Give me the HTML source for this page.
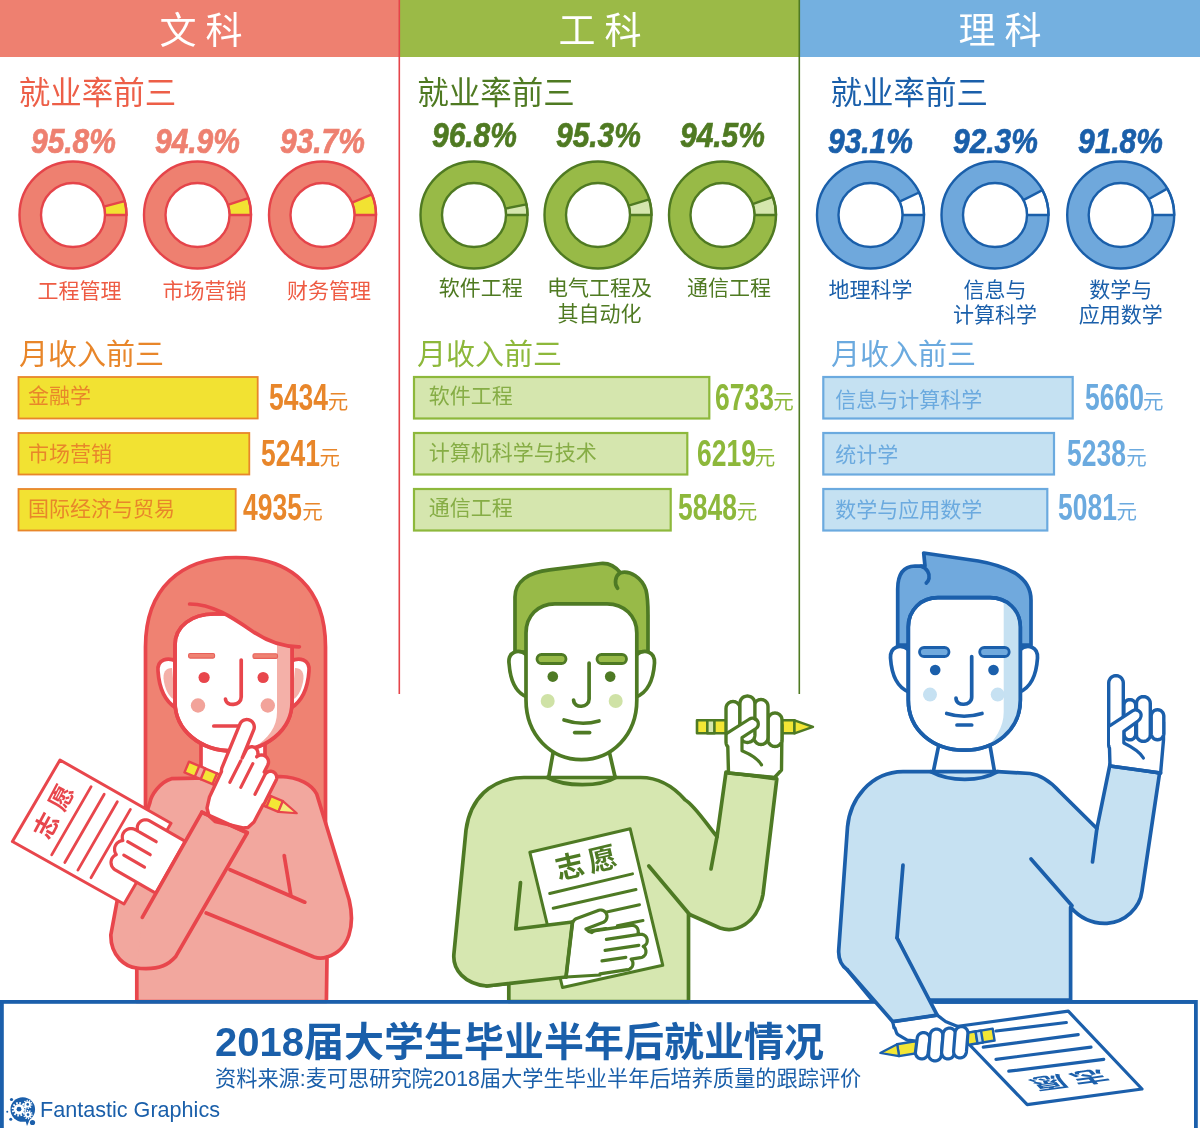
<!DOCTYPE html>
<html lang="zh-CN">
<head>
<meta charset="utf-8">
<title>2018届大学生毕业半年后就业情况</title>
<style>
*{margin:0;padding:0;box-sizing:border-box}
html,body{width:1200px;height:1128px;overflow:hidden;background:#fff}
body{position:relative;font-family:"Liberation Sans","Noto Sans CJK SC",sans-serif}
.a{position:absolute;white-space:nowrap}
.hd{top:0;height:57px;color:#fff;font-size:37px;line-height:63px;text-align:center;letter-spacing:9px;text-indent:9px;font-weight:400}
.h2{font-size:31.5px;line-height:31.5px;font-weight:400}
.h3{font-size:29px;line-height:29px;font-weight:400}
.pc{font-size:35px;line-height:35px;font-weight:700;-webkit-text-stroke:0.7px currentColor;font-style:italic;font-family:"Liberation Sans",sans-serif;transform-origin:0 0;transform:scaleX(.855)}
.lb{font-size:21px;text-align:center;white-space:normal}
.bt{font-size:21px;line-height:21px}
.num{font-size:36.5px;line-height:36.5px;font-weight:700;font-family:"Liberation Sans",sans-serif;transform-origin:0 0;transform:scaleX(.725)}
.yuan{font-size:20.5px;line-height:20.5px}
svg{position:absolute;left:0;top:0}
.ft1{font-size:40px;line-height:40px;font-weight:700;color:#1a5faa}
.ft2{font-size:21.2px;line-height:21.2px;color:#1a5faa}
.ft3{font-size:21.6px;line-height:21.6px;color:#1a5faa;font-family:"Liberation Sans",sans-serif}
</style>
</head>
<body>
<div class="a" style="left:0;top:0;width:399px;height:57px;background:#ee8070"></div>
<div class="a" style="left:400px;top:0;width:399px;height:57px;background:#9bba47"></div>
<div class="a" style="left:800px;top:0;width:400px;height:57px;background:#74b0e0"></div>
<div class="a hd" style="left:-1.5px;width:405px">文科</div>
<div class="a hd" style="left:397.5px;width:405px">工科</div>
<div class="a hd" style="left:797.5px;width:405px">理科</div>
<svg width="1200" height="1128" viewBox="0 0 1200 1128">
<line x1="399.3" y1="0" x2="399.3" y2="694" stroke="#e5444a" stroke-width="1.6"/>
<line x1="799.3" y1="0" x2="799.3" y2="694" stroke="#4f7a22" stroke-width="1.6"/>
<circle cx="73" cy="215" r="42.75" fill="none" stroke="#ee8070" stroke-width="21.5"/><path d="M105.00,215.00 L126.50,215.00 A53.5,53.5 0 0 0 124.65,201.04 L103.89,206.65 A32,32 0 0 1 105.00,215.00Z" fill="#f2e232" stroke="#e5444a" stroke-width="2.4" stroke-linejoin="round"/><circle cx="73" cy="215" r="53.5" fill="none" stroke="#e5444a" stroke-width="2.4"/><circle cx="73" cy="215" r="32" fill="#fff" stroke="#e5444a" stroke-width="2.4"/>
<circle cx="197.5" cy="215" r="42.75" fill="none" stroke="#ee8070" stroke-width="21.5"/><path d="M229.50,215.00 L251.00,215.00 A53.5,53.5 0 0 0 248.28,198.15 L227.87,204.92 A32,32 0 0 1 229.50,215.00Z" fill="#f2e232" stroke="#e5444a" stroke-width="2.4" stroke-linejoin="round"/><circle cx="197.5" cy="215" r="53.5" fill="none" stroke="#e5444a" stroke-width="2.4"/><circle cx="197.5" cy="215" r="32" fill="#fff" stroke="#e5444a" stroke-width="2.4"/>
<circle cx="322.5" cy="215" r="42.75" fill="none" stroke="#ee8070" stroke-width="21.5"/><path d="M354.50,215.00 L376.00,215.00 A53.5,53.5 0 0 0 371.86,194.37 L352.03,202.66 A32,32 0 0 1 354.50,215.00Z" fill="#f2e232" stroke="#e5444a" stroke-width="2.4" stroke-linejoin="round"/><circle cx="322.5" cy="215" r="53.5" fill="none" stroke="#e5444a" stroke-width="2.4"/><circle cx="322.5" cy="215" r="32" fill="#fff" stroke="#e5444a" stroke-width="2.4"/>
<rect x="18.5" y="377" width="239.2" height="41.5" fill="#f2e232" stroke="#e8862a" stroke-width="1.8"/>
<rect x="18.5" y="433" width="230.8" height="41.5" fill="#f2e232" stroke="#e8862a" stroke-width="1.8"/>
<rect x="18.5" y="489" width="217.2" height="41.5" fill="#f2e232" stroke="#e8862a" stroke-width="1.8"/>
<circle cx="474" cy="215" r="42.75" fill="none" stroke="#98ba47" stroke-width="21.5"/><path d="M506.00,215.00 L527.50,215.00 A53.5,53.5 0 0 0 526.42,204.32 L505.36,208.61 A32,32 0 0 1 506.00,215.00Z" fill="#d5e6ae" stroke="#4f7a22" stroke-width="2.4" stroke-linejoin="round"/><circle cx="474" cy="215" r="53.5" fill="none" stroke="#4f7a22" stroke-width="2.4"/><circle cx="474" cy="215" r="32" fill="#fff" stroke="#4f7a22" stroke-width="2.4"/>
<circle cx="598" cy="215" r="42.75" fill="none" stroke="#98ba47" stroke-width="21.5"/><path d="M630.00,215.00 L651.50,215.00 A53.5,53.5 0 0 0 649.18,199.43 L628.61,205.69 A32,32 0 0 1 630.00,215.00Z" fill="#d5e6ae" stroke="#4f7a22" stroke-width="2.4" stroke-linejoin="round"/><circle cx="598" cy="215" r="53.5" fill="none" stroke="#4f7a22" stroke-width="2.4"/><circle cx="598" cy="215" r="32" fill="#fff" stroke="#4f7a22" stroke-width="2.4"/>
<circle cx="722.5" cy="215" r="42.75" fill="none" stroke="#98ba47" stroke-width="21.5"/><path d="M754.50,215.00 L776.00,215.00 A53.5,53.5 0 0 0 772.84,196.88 L752.61,204.16 A32,32 0 0 1 754.50,215.00Z" fill="#d5e6ae" stroke="#4f7a22" stroke-width="2.4" stroke-linejoin="round"/><circle cx="722.5" cy="215" r="53.5" fill="none" stroke="#4f7a22" stroke-width="2.4"/><circle cx="722.5" cy="215" r="32" fill="#fff" stroke="#4f7a22" stroke-width="2.4"/>
<rect x="414" y="377" width="295.3" height="41.5" fill="#d5e6ae" stroke="#8db83b" stroke-width="2.2"/>
<rect x="414" y="433" width="273.3" height="41.5" fill="#d5e6ae" stroke="#8db83b" stroke-width="2.2"/>
<rect x="414" y="489" width="256.7" height="41.5" fill="#d5e6ae" stroke="#8db83b" stroke-width="2.2"/>
<circle cx="870.5" cy="215" r="42.75" fill="none" stroke="#6fa8dc" stroke-width="21.5"/><path d="M902.50,215.00 L924.00,215.00 A53.5,53.5 0 0 0 919.05,192.53 L899.54,201.56 A32,32 0 0 1 902.50,215.00Z" fill="#ffffff" stroke="#1a5faa" stroke-width="2.4" stroke-linejoin="round"/><circle cx="870.5" cy="215" r="53.5" fill="none" stroke="#1a5faa" stroke-width="2.4"/><circle cx="870.5" cy="215" r="32" fill="#fff" stroke="#1a5faa" stroke-width="2.4"/>
<circle cx="995" cy="215" r="42.75" fill="none" stroke="#6fa8dc" stroke-width="21.5"/><path d="M1027.00,215.00 L1048.50,215.00 A53.5,53.5 0 0 0 1042.36,190.11 L1023.33,200.12 A32,32 0 0 1 1027.00,215.00Z" fill="#ffffff" stroke="#1a5faa" stroke-width="2.4" stroke-linejoin="round"/><circle cx="995" cy="215" r="53.5" fill="none" stroke="#1a5faa" stroke-width="2.4"/><circle cx="995" cy="215" r="32" fill="#fff" stroke="#1a5faa" stroke-width="2.4"/>
<circle cx="1120.7" cy="215" r="42.75" fill="none" stroke="#6fa8dc" stroke-width="21.5"/><path d="M1152.70,215.00 L1174.20,215.00 A53.5,53.5 0 0 0 1167.25,188.64 L1148.55,199.23 A32,32 0 0 1 1152.70,215.00Z" fill="#ffffff" stroke="#1a5faa" stroke-width="2.4" stroke-linejoin="round"/><circle cx="1120.7" cy="215" r="53.5" fill="none" stroke="#1a5faa" stroke-width="2.4"/><circle cx="1120.7" cy="215" r="32" fill="#fff" stroke="#1a5faa" stroke-width="2.4"/>
<rect x="823.3" y="377" width="249.4" height="41.5" fill="#c5e1f2" stroke="#6baadf" stroke-width="2.2"/>
<rect x="823.3" y="433" width="230.7" height="41.5" fill="#c5e1f2" stroke="#6baadf" stroke-width="2.2"/>
<rect x="823.3" y="489" width="224.0" height="41.5" fill="#c5e1f2" stroke="#6baadf" stroke-width="2.2"/>
</svg>
<div class="a h2" style="left:18.8px;top:77.5px;color:#ed5f48">就业率前三</div>
<div class="a h3" style="left:19px;top:340.5px;color:#e8862a">月收入前三</div>
<div class="a pc" style="left:31px;top:123px;color:#ee8070">95.8%</div>
<div class="a lb" style="left:19.5px;width:120px;top:278px;color:#ee5b43;line-height:25px">工程管理</div>
<div class="a pc" style="left:155px;top:123px;color:#ee8070">94.9%</div>
<div class="a lb" style="left:144.5px;width:120px;top:278px;color:#ee5b43;line-height:25px">市场营销</div>
<div class="a pc" style="left:280px;top:123px;color:#ee8070">93.7%</div>
<div class="a lb" style="left:269px;width:120px;top:278px;color:#ee5b43;line-height:25px">财务管理</div>
<div class="a bt" style="left:28px;top:385.1px;color:#e8862a">金融学</div>
<div class="a num" style="left:268.8px;top:379.8px;color:#e8862a">5434</div>
<div class="a yuan" style="left:327.7px;top:391.5px;color:#e8862a">元</div>
<div class="a bt" style="left:28px;top:442.9px;color:#e8862a">市场营销</div>
<div class="a num" style="left:260.5px;top:436.1px;color:#e8862a">5241</div>
<div class="a yuan" style="left:319.4px;top:447.5px;color:#e8862a">元</div>
<div class="a bt" style="left:28px;top:497.5px;color:#e8862a">国际经济与贸易</div>
<div class="a num" style="left:243.3px;top:490.3px;color:#e8862a">4935</div>
<div class="a yuan" style="left:302.2px;top:502.0px;color:#e8862a">元</div>
<div class="a h2" style="left:417.3px;top:77.5px;color:#4f7a22">就业率前三</div>
<div class="a h3" style="left:417px;top:340.5px;color:#8db83b">月收入前三</div>
<div class="a pc" style="left:432px;top:116.5px;color:#4f7a22">96.8%</div>
<div class="a lb" style="left:420.8px;width:120px;top:275px;color:#4f7a22;line-height:26px">软件工程</div>
<div class="a pc" style="left:556px;top:116.5px;color:#4f7a22">95.3%</div>
<div class="a lb" style="left:539.4px;width:120px;top:275px;color:#4f7a22;line-height:26px">电气工程及<br>其自动化</div>
<div class="a pc" style="left:680px;top:116.5px;color:#4f7a22">94.5%</div>
<div class="a lb" style="left:669px;width:120px;top:275px;color:#4f7a22;line-height:26px">通信工程</div>
<div class="a bt" style="left:428.7px;top:385.2px;color:#86ad45">软件工程</div>
<div class="a num" style="left:715.0px;top:379.8px;color:#8db83b">6733</div>
<div class="a yuan" style="left:773.2px;top:391.5px;color:#8db83b">元</div>
<div class="a bt" style="left:428.7px;top:441.8px;color:#86ad45">计算机科学与技术</div>
<div class="a num" style="left:696.5px;top:436.1px;color:#8db83b">6219</div>
<div class="a yuan" style="left:754.7px;top:447.5px;color:#8db83b">元</div>
<div class="a bt" style="left:428.7px;top:496.8px;color:#86ad45">通信工程</div>
<div class="a num" style="left:677.9px;top:490.3px;color:#8db83b">5848</div>
<div class="a yuan" style="left:736.8px;top:502.0px;color:#8db83b">元</div>
<div class="a h2" style="left:830.6px;top:77.5px;color:#1a5faa">就业率前三</div>
<div class="a h3" style="left:831px;top:340.5px;color:#6baadf">月收入前三</div>
<div class="a pc" style="left:828.4px;top:123px;color:#1a5faa">93.1%</div>
<div class="a lb" style="left:810.5px;width:120px;top:278px;color:#1a5faa;line-height:24.5px">地理科学</div>
<div class="a pc" style="left:953px;top:123px;color:#1a5faa">92.3%</div>
<div class="a lb" style="left:935px;width:120px;top:278px;color:#1a5faa;line-height:24.5px">信息与<br>计算科学</div>
<div class="a pc" style="left:1078px;top:123px;color:#1a5faa">91.8%</div>
<div class="a lb" style="left:1060.7px;width:120px;top:278px;color:#1a5faa;line-height:24.5px">数学与<br>应用数学</div>
<div class="a bt" style="left:835.3px;top:388.5px;color:#6baadf">信息与计算科学</div>
<div class="a num" style="left:1084.5px;top:379.8px;color:#6baadf">5660</div>
<div class="a yuan" style="left:1143.1px;top:391.5px;color:#6baadf">元</div>
<div class="a bt" style="left:835.3px;top:444.3px;color:#6baadf">统计学</div>
<div class="a num" style="left:1066.7px;top:436.1px;color:#6baadf">5238</div>
<div class="a yuan" style="left:1126.2px;top:447.5px;color:#6baadf">元</div>
<div class="a bt" style="left:835.3px;top:498.5px;color:#6baadf">数学与应用数学</div>
<div class="a num" style="left:1057.7px;top:490.3px;color:#6baadf">5081</div>
<div class="a yuan" style="left:1116.6px;top:502.0px;color:#6baadf">元</div>
<svg width="1200" height="1128" viewBox="0 0 1200 1128">
<g stroke="#e8464c" stroke-width="3.7" stroke-linejoin="round" stroke-linecap="round">
<path d="M145.5,840 L145.5,647 C145.5,589 180,557.5 236,557.5 C292,557.5 325.5,589 325.5,647 L325.5,840 Z" fill="#ef8272"/>
<path d="M201,735 L201,790 L265,790 L265,735 Z" fill="#fff"/>
<path d="M176,661 C168,657 157,659 158,671 C159,686 163,700 176,708 Z" fill="#fff"/>
<path d="M172,668 C166,668 162,672 164,682 C166,692 170,698 175,700 Z" fill="#f4b0a8" stroke="none"/>
<path d="M291,661 C299,657 310,659 309,671 C308,686 304,700 291,708 Z" fill="#fff"/>
<path d="M295,668 C301,668 305,672 303,682 C301,692 297,698 292,700 Z" fill="#f4b0a8" stroke="none"/>
<clipPath id="rfc"><path d="M175,702 L175,645 C175,626 192,614 214,614 L254,614 C276,614 292,626 292,645 L292,702 C292,730 266,751 233,751 C200,751 175,730 175,702 Z"/></clipPath>
<path d="M175,702 L175,645 C175,626 192,614 214,614 L254,614 C276,614 292,626 292,645 L292,702 C292,730 266,751 233,751 C200,751 175,730 175,702 Z" fill="#fff"/>
<path d="M277,640 L277,712 C277,730 265,742 246,752 L300,760 L300,640 Z" fill="#f4b0a8" stroke="none" clip-path="url(#rfc)"/>
<path d="M175,702 L175,645 C175,626 192,614 214,614 L254,614 C276,614 292,626 292,645 L292,702 C292,730 266,751 233,751 C200,751 175,730 175,702 Z" fill="none"/>
<path d="M189.6,604 C212,604 232,617 252,631 C268,642 285,647 299.4,646.8 L299.4,598 L189.6,598 Z" fill="#ef8272" stroke="none"/>
<path d="M189.6,604 C212,604 232,617 252,631 C268,642 285,647 299.4,646.8" fill="none"/>
<rect x="188.6" y="653.5" width="26" height="4.6" rx="1.5" fill="#ef8272" stroke="#e8605a" stroke-width="1.1"/>
<rect x="253" y="653.8" width="24.5" height="4.6" rx="1.5" fill="#ef8272" stroke="#e8605a" stroke-width="1.1"/>
<circle cx="204.1" cy="677.5" r="5.6" fill="#e8464c" stroke="none"/>
<circle cx="263.1" cy="677.5" r="5.6" fill="#e8464c" stroke="none"/>
<circle cx="198" cy="705.5" r="7.2" fill="#f2a39a" stroke="none"/>
<circle cx="267.8" cy="705.5" r="7.2" fill="#f2a39a" stroke="none"/>
<path d="M241.2,660 L241.2,697 C241.2,706 226,707 225.5,699" fill="none"/>
<path d="M213.8,726 L241.7,726" fill="none"/>
<path d="M171.5,778.7 L279.8,776.5 C300,777 312,785 316.7,794 L349.2,900 C355,925 350,950 327,957 L326.4,1001.5 L136.8,1001.5 L136.8,968 C126,967 110.8,957 110.8,935 L117.3,900 L149.8,803 C151,795 160,782 171.5,778.7 Z" fill="#f2a79e"/>
<path d="M230,869.7 L304.8,902.2" fill="none"/>
<path d="M206.2,913 L314,957 C320,959 324,958 327,957" fill="none"/>
<path d="M284.2,855.6 L290.7,894.6" fill="none"/>
<g transform="translate(186.7,767) rotate(22.8)">
<path d="M0,-5.8 L101.9,-5.8 L101.9,5.8 L0,5.8 Z" fill="#f3e635" stroke-width="2.4"/>
<rect x="11.2" y="-5.8" width="6.4" height="11.6" fill="#f2a79e" stroke-width="2.4"/>
<path d="M30.4,-5.8 L30.4,5.8 M89,-5.8 L89,5.8" fill="none" stroke-width="2.4"/>
<path d="M101.9,-5.8 L119.4,0 L101.9,5.8 Z" fill="#f5ec7a" stroke-width="2.2"/>
</g>
<path d="M60,760 L171,823.3 L124,904 L12.4,841.5 Z" fill="#fff" stroke-width="3"/>
<path d="M91.1,786.6 L51.7,854.9 M104.2,794.2 L64.8,862.5 M117.3,801.8 L77.9,870.1 M130.4,809.4 L91,877.7" fill="none" stroke-width="2.8"/>
<path d="M149.6,820.9 L148.7,820.4 L147.6,820.0 L146.6,819.8 L145.5,819.8 L144.4,819.8 L143.4,820.0 L142.3,820.4 L141.4,820.9 L140.5,821.5 L139.7,822.2 L139.0,823.0 L138.4,823.9 L137.9,824.8 L137.5,825.9 L137.3,826.9 L137.3,828.0 L137.3,829.1 L137.5,830.1 L137.9,831.2 L137.9,831.2 L135.4,829.7 L134.3,829.2 L133.3,828.8 L132.1,828.6 L131.0,828.6 L129.9,828.6 L128.7,828.8 L127.7,829.2 L126.6,829.7 L125.7,830.4 L124.8,831.1 L124.1,832.0 L123.4,832.9 L122.9,834.0 L122.5,835.0 L122.3,836.2 L122.3,837.3 L122.3,838.4 L122.5,839.6 L122.9,840.6 L122.2,840.6 L121.0,840.8 L120.0,841.2 L118.9,841.7 L118.0,842.4 L117.1,843.1 L116.4,844.0 L115.7,844.9 L115.2,846.0 L114.8,847.0 L114.6,848.2 L114.6,849.3 L114.6,850.4 L114.8,851.6 L115.2,852.6 L115.7,853.7 L116.3,854.6 L116.2,854.6 L115.3,855.1 L114.3,855.8 L113.5,856.5 L112.8,857.3 L112.1,858.2 L111.6,859.2 L111.3,860.3 L111.1,861.4 L111.0,862.5 L111.1,863.6 L111.3,864.7 L111.6,865.8 L112.1,866.7 L112.8,867.7 L113.5,868.5 L114.3,869.2 L115.2,869.9 L153.4,891.9 L154.4,892.4 L155.4,892.7 L156.1,892.9 L185.3,841.4Z" fill="#fff" stroke-width="3.2"/>
<path d="M139.6,832.1 L156.2,841.7 M127.7,841.7 L150.2,854.7 M123.8,855.1 L144.5,867.1" fill="none" stroke-width="3.2"/>
<path d="M201.8,812.3 L247.3,832.8 L175.8,956.4 C168,965 160,968.6 146,968.6 C141,968.6 139,968.4 136.8,968 L142.3,917.3 Z" fill="#f2a79e" stroke="none"/>
<path d="M201.8,812.3 L247.3,832.8 L175.8,956.4 C168,965 160,968.6 146,968.6 C141,968.6 139,968.4 136.8,968" fill="none"/>
<path d="M201.8,812.3 L142.3,917.3" fill="none"/>
<path d="M221.5,769.5 L221.4,770.5 L221.5,771.5 L221.5,771.6 L209.5,797.0 L207.0,808.0 L209.0,816.0 L215.0,821.5 L243.0,828.0 L248.0,827.5 L254.0,822.0 L263.1,804.7 L263.3,804.6 L263.9,804.0 L264.4,803.3 L264.8,802.6 L276.1,780.3 L276.4,779.6 L276.6,778.8 L276.7,778.0 L276.7,777.2 L276.6,776.3 L276.4,775.6 L276.1,774.8 L275.7,774.1 L275.2,773.4 L274.7,772.8 L274.0,772.3 L273.3,771.9 L272.6,771.6 L271.8,771.4 L271.0,771.3 L270.2,771.3 L269.3,771.4 L268.6,771.6 L267.8,771.9 L267.1,772.3 L266.4,772.8 L265.8,773.3 L265.7,773.5 L264.2,772.1 L267.7,765.2 L268.1,764.3 L268.4,763.4 L268.5,762.5 L268.5,761.6 L268.4,760.7 L268.2,759.8 L267.8,759.0 L267.4,758.2 L266.8,757.4 L266.2,756.8 L265.4,756.2 L264.7,755.8 L263.8,755.4 L262.9,755.1 L262.0,755.0 L261.1,755.0 L260.2,755.1 L259.3,755.3 L258.5,755.7 L257.7,756.1 L256.9,756.7 L256.7,756.9 L257.3,755.8 L257.6,755.1 L257.8,754.3 L257.9,753.5 L257.9,752.7 L257.8,751.8 L257.6,751.1 L257.3,750.3 L256.9,749.6 L256.4,748.9 L255.9,748.3 L255.2,747.8 L254.5,747.4 L253.8,747.1 L253.0,746.9 L252.2,746.8 L251.4,746.8 L250.5,746.9 L249.8,747.1 L249.0,747.4 L248.3,747.8 L247.6,748.3 L247.0,748.8 L246.5,749.5 L246.1,750.2 L242.2,758.0 L253.7,729.8 L254.1,728.9 L254.2,728.0 L254.3,727.0 L254.2,726.0 L254.0,725.0 L253.7,724.1 L253.3,723.2 L252.7,722.4 L252.1,721.7 L251.3,721.0 L250.5,720.5 L249.6,720.1 L248.7,719.7 L247.8,719.6 L246.8,719.5 L245.8,719.6 L244.8,719.8 L243.9,720.1 L243.0,720.5 L242.2,721.1 L241.5,721.7 L240.8,722.5 L240.3,723.3 L239.9,724.2 L222.0,767.6 L221.7,768.6Z" fill="#fff" stroke-width="3.4"/>
<path d="M240.8,760.8 L229.9,782.3 M252.8,763.6 L240.8,787.4 M264.9,774.7 L255.0,794.3" fill="none" stroke-width="3.2"/>
<path d="M201.8,812.3 L247.3,832.8" fill="none"/>
</g>
<text transform="translate(55.9,808.5) rotate(-62)" font-family="Liberation Sans,'Noto Sans CJK SC',sans-serif" font-weight="700" font-size="24.5" fill="#e8464c" text-anchor="middle" dominant-baseline="central" letter-spacing="7.5">志愿</text>
<g stroke="#4e7a24" stroke-width="3.7" stroke-linejoin="round" stroke-linecap="round">
<path d="M515,652 L515,597 C515,582 528,572 549.6,569.8 L600.6,563.5 C608,562.8 615,566 620.4,572.7 C630,570 642,578 646,590 C648,598 648,605 648,615 L648,652 Z" fill="#98ba48"/>
<path d="M620.4,572.7 C615,576 614,584 617.6,588.2" fill="none"/>
<path d="M554.5,745 L548,781 L616,781 L607.7,745 Z" fill="#fff"/>
<path d="M527,655 C518,648 508,652 509,663 C510,678 514,692 527,697 Z" fill="#fff"/>
<path d="M636,655 C645,648 655,652 654.5,663 C653.5,678 649,692 636,697 Z" fill="#fff"/>
<path d="M526,700 L526,633 C526,616 538,603.8 555,603.8 L607,603.8 C624,603.8 636.8,616 636.8,633 L636.8,700 C636.8,735 612,759.6 581.4,759.6 C551,759.6 526,735 526,700 Z" fill="#fff"/>
<rect x="537" y="654.5" width="29" height="9" rx="4.5" fill="#98ba48" stroke-width="2.8"/>
<rect x="597" y="654.5" width="29.5" height="9" rx="4.5" fill="#98ba48" stroke-width="2.8"/>
<circle cx="552.8" cy="676.6" r="5.3" fill="#4e7a24" stroke="none"/>
<circle cx="610.2" cy="676.6" r="5.3" fill="#4e7a24" stroke="none"/>
<circle cx="547.7" cy="701" r="7" fill="#cfe2a6" stroke="none"/>
<circle cx="615.7" cy="701" r="7" fill="#cfe2a6" stroke="none"/>
<path d="M589.1,663 L589.1,699 C589.1,708 574,709 573.6,700" fill="none"/>
<path d="M564,720 Q581.5,726 599,721" fill="none"/>
<path d="M574.7,732.6 L589.6,732.6" fill="none"/>
<path d="M547.3,777.5 L524,777.5 C490,778 470,800 466,830 L454,953 C452,970 465,984 486.7,986 L508.8,983.5 L508.8,1001.5 L688.5,1001.5 L688.5,914 L720,928 C735,933 757,925 763,894.3 L776.8,779 L726,772 L717,836.7 C705,822 695,806 685,799.7 C672,785 656,777.5 640.7,777.5 L616,777.5 Z" fill="#d6e7b0"/>
<path d="M547.3,777.5 C565,787 600,787 616,777.5" fill="none"/>
<path d="M717,836.7 L711,869" fill="none"/>
<path d="M648.8,866 L690,915" fill="none"/>
<path d="M520.5,882.5 L515.8,929" fill="none"/>
<path d="M529.8,852.2 L630.2,828.8 L662.8,965.3 L562.5,987.5 Z" fill="#fff" stroke-width="3"/>
<path d="M549.7,893.5 L632.5,873.9 M553.2,908.2 L636,889.5 M603.3,912.8 L639.5,904.7 M617.3,925.7 L643,920.5" fill="none" stroke-width="3"/>
<path d="M515.8,929 L572.5,922 L566,977 L486.7,986 Z" fill="#d6e7b0" stroke="none"/>
<path d="M515.8,929 L572.5,922 M486.7,986 L566,977" fill="none"/>
<path d="M593.9,931.1 L593.2,931.5 L592.5,932.0 L591.9,932.5 L591.8,932.6 L589.0,931.5 L586.0,929.0 L585.9,928.9 L602.8,922.6 L603.5,922.2 L604.3,921.8 L604.9,921.3 L605.5,920.6 L606.0,920.0 L606.4,919.2 L606.7,918.4 L606.9,917.6 L607.0,916.7 L607.0,915.9 L606.8,915.0 L606.6,914.2 L606.2,913.5 L605.8,912.7 L605.3,912.1 L604.6,911.5 L604.0,911.0 L603.2,910.6 L602.4,910.3 L601.6,910.1 L600.7,910.0 L599.9,910.0 L599.0,910.2 L598.2,910.4 L576.7,918.4 L576.0,918.8 L575.2,919.2 L574.6,919.7 L574.0,920.4 L573.5,921.0 L573.2,921.6 L572.5,922.0 L566.0,977.0 L600.0,975.0 L600.0,973.8 L627.6,969.7 L628.4,969.5 L629.2,969.2 L629.9,968.9 L630.6,968.4 L631.2,967.8 L631.7,967.2 L632.2,966.5 L632.5,965.8 L632.8,965.0 L632.9,964.2 L632.9,963.4 L632.9,962.6 L632.7,961.8 L632.4,961.0 L632.1,960.3 L631.6,959.6 L631.1,959.1 L640.6,957.7 L641.4,957.5 L642.2,957.2 L642.9,956.9 L643.6,956.4 L644.2,955.8 L644.7,955.2 L645.2,954.5 L645.5,953.8 L645.8,953.0 L645.9,952.2 L645.9,951.4 L645.9,950.6 L645.7,949.8 L645.4,949.0 L645.1,948.3 L644.6,947.6 L644.0,947.0 L643.4,946.5 L643.2,946.3 L643.5,946.2 L644.2,945.9 L644.9,945.4 L645.5,944.8 L646.0,944.2 L646.5,943.5 L646.8,942.8 L647.1,942.0 L647.2,941.2 L647.2,940.4 L647.2,939.6 L647.0,938.8 L646.7,938.0 L646.4,937.3 L645.9,936.6 L645.3,936.0 L644.7,935.5 L644.0,935.0 L643.3,934.7 L642.5,934.4 L641.7,934.3 L640.9,934.3 L640.1,934.3 L637.3,934.7 L637.5,934.5 L637.8,933.8 L638.1,933.0 L638.2,932.2 L638.2,931.4 L638.2,930.6 L638.0,929.8 L637.7,929.0 L637.4,928.3 L636.9,927.6 L636.3,927.0 L635.7,926.5 L635.0,926.0 L634.3,925.7 L633.5,925.4 L632.7,925.3 L631.9,925.3 L631.1,925.3 L595.5,930.7 L594.7,930.9Z" fill="#fff" stroke-width="3.2"/>
<path d="M635.9,934.9 L606.4,939.4 M638.8,945.3 L605.1,950.4 M625.8,957.3 L602.0,960.9" fill="none" stroke-width="3.2"/>
<path d="M589,931.2 L606,928.5" fill="none" stroke-width="3.2"/>
<path d="M572.5,922 L566,977" fill="none"/>
<path d="M697,720.3 L794.5,720.3 L794.5,733.3 L697,733.3 Z" fill="#f3e635" stroke-width="2.6"/>
<rect x="707.3" y="720.3" width="7.1" height="13" fill="#d6e7b0" stroke-width="2.6"/>
<path d="M794.5,720.3 L813,726.8 L794.5,733.3 Z" fill="#f3e635" stroke-width="2.4"/>
<path d="M726.1,742.9 L726.2,743.8 L726.5,744.7 L726.9,745.5 L727.4,746.3 L727.8,746.6 L728.5,773.0 L774.5,777.5 L781.5,770.0 L782.0,725.0 L740.0,725.0 L740.0,708.5 L739.9,707.6 L739.8,706.7 L739.5,705.8 L739.1,705.0 L738.6,704.2 L737.9,703.6 L737.3,702.9 L736.5,702.4 L735.7,702.0 L734.8,701.7 L733.9,701.6 L733.0,701.5 L732.1,701.6 L731.2,701.7 L730.3,702.0 L729.5,702.4 L728.7,702.9 L728.1,703.6 L727.4,704.2 L726.9,705.0 L726.5,705.8 L726.2,706.7 L726.1,707.6 L726.0,708.5 L726.0,742.0Z" fill="#fff" stroke-width="3.4"/>
<path d="M768.0,739.5 L768.1,740.4 L768.2,741.3 L768.5,742.2 L768.9,743.0 L769.4,743.8 L770.1,744.4 L770.7,745.1 L771.5,745.6 L772.3,746.0 L773.2,746.3 L774.1,746.4 L775.0,746.5 L775.9,746.4 L776.8,746.3 L777.7,746.0 L778.5,745.6 L779.3,745.1 L779.9,744.4 L780.6,743.8 L781.1,743.0 L781.5,742.2 L781.8,741.3 L781.9,740.4 L782.0,739.5 L782.0,720.0 L781.9,719.1 L781.8,718.2 L781.5,717.3 L781.1,716.5 L780.6,715.7 L779.9,715.1 L779.3,714.4 L778.5,713.9 L777.7,713.5 L776.8,713.2 L775.9,713.1 L775.0,713.0 L774.1,713.1 L773.2,713.2 L772.3,713.5 L771.5,713.9 L770.7,714.4 L770.1,715.1 L769.4,715.7 L768.9,716.5 L768.5,717.3 L768.2,718.2 L768.1,719.1 L768.0,720.0Z" fill="#fff" stroke-width="3.4"/>
<path d="M754.0,737.5 L754.1,738.4 L754.2,739.3 L754.5,740.2 L754.9,741.0 L755.4,741.8 L756.1,742.4 L756.7,743.1 L757.5,743.6 L758.3,744.0 L759.2,744.3 L760.1,744.4 L761.0,744.5 L761.9,744.4 L762.8,744.3 L763.7,744.0 L764.5,743.6 L765.3,743.1 L765.9,742.4 L766.6,741.8 L767.1,741.0 L767.5,740.2 L767.8,739.3 L767.9,738.4 L768.0,737.5 L768.0,706.5 L767.9,705.6 L767.8,704.7 L767.5,703.8 L767.1,703.0 L766.6,702.2 L765.9,701.6 L765.3,700.9 L764.5,700.4 L763.7,700.0 L762.8,699.7 L761.9,699.6 L761.0,699.5 L760.1,699.6 L759.2,699.7 L758.3,700.0 L757.5,700.4 L756.7,700.9 L756.1,701.6 L755.4,702.2 L754.9,703.0 L754.5,703.8 L754.2,704.7 L754.1,705.6 L754.0,706.5Z" fill="#fff" stroke-width="3.4"/>
<path d="M739.9,735.0 L740.0,736.0 L740.2,736.9 L740.5,737.9 L740.9,738.8 L741.4,739.6 L742.1,740.3 L742.8,741.0 L743.6,741.5 L744.5,741.9 L745.5,742.2 L746.4,742.4 L747.4,742.5 L748.4,742.4 L749.3,742.2 L750.3,741.9 L751.1,741.5 L752.0,741.0 L752.7,740.3 L753.4,739.6 L753.9,738.8 L754.3,737.9 L754.6,736.9 L754.8,736.0 L754.9,735.0 L754.9,703.5 L754.8,702.5 L754.6,701.6 L754.3,700.6 L753.9,699.8 L753.4,698.9 L752.7,698.2 L752.0,697.5 L751.1,697.0 L750.3,696.6 L749.3,696.3 L748.4,696.1 L747.4,696.0 L746.4,696.1 L745.5,696.3 L744.5,696.6 L743.6,697.0 L742.8,697.5 L742.1,698.2 L741.4,698.9 L740.9,699.8 L740.5,700.6 L740.2,701.6 L740.0,702.5 L739.9,703.5Z" fill="#fff" stroke-width="3.4"/>
<path d="M729.8,731.5 L751,718.5 L758,723 L757.5,727.5 L742,737.7 L742,750.7 L730,752 Z" fill="#fff" stroke="none"/>
<path d="M726.8,733.3 L749.5,719 C753,717 758,719 758.3,723.5 C758.5,726 757.5,727.5 756,728.5 L742,737.7 L742,750.7 C750,754 758,759 761.5,764.8" fill="none" stroke-width="3.2"/>
<path d="M728.5,773 L776,778" fill="none"/>
</g>
<text transform="translate(588.5,862.5) rotate(-13.1)" font-family="Liberation Sans,'Noto Sans CJK SC',sans-serif" font-weight="700" font-size="28.5" fill="#4e7a24" text-anchor="middle" dominant-baseline="central" letter-spacing="5">志愿</text>
<rect x="1.9" y="1001.9" width="1194" height="140" fill="none" stroke="#1b5fab" stroke-width="3.8"/>
<g stroke="#1b5fab" stroke-width="3.7" stroke-linejoin="round" stroke-linecap="round">
<path d="M897.7,645 L897.7,589 C897.7,575 903,566.3 915,566 C919,566 922,566.5 925,566 L923.7,553 L978.3,561 C993,563.5 1005,567.7 1015,573 C1026,580 1031,590 1031,600 L1031,645 Z" fill="#70a9dd"/>
<path d="M921,566.3 C927,568 930,574 929,578.3 C928.5,581 927.5,582 926.3,583" fill="none"/>
<path d="M939.4,742 L932,778 L995.6,778 L989.4,742 Z" fill="#fff"/>
<path d="M909,650 C900,643 890,647 890.5,658 C891.5,673 896,687 909,692 Z" fill="#fff"/>
<path d="M1019.5,650 C1028,643 1038,647 1037.5,658 C1036.5,673 1032,687 1019.5,692 Z" fill="#fff"/>
<clipPath id="bfc"><path d="M908.3,700 L908.3,627 C908.3,610 921,597.7 938,597.7 L990,597.7 C1007,597.7 1020.3,610 1020.3,627 L1020.3,700 C1020.3,730 995,750.2 964.3,750.2 C933,750.2 908.3,730 908.3,700 Z"/></clipPath>
<path d="M908.3,700 L908.3,627 C908.3,610 921,597.7 938,597.7 L990,597.7 C1007,597.7 1020.3,610 1020.3,627 L1020.3,700 C1020.3,730 995,750.2 964.3,750.2 C933,750.2 908.3,730 908.3,700 Z" fill="#fff"/>
<path d="M1003.7,590 L1003.7,712 C1003.7,728 995,740 982,752 L1030,760 L1030,590 Z" fill="#c6e1f2" stroke="none" clip-path="url(#bfc)"/>
<path d="M908.3,700 L908.3,627 C908.3,610 921,597.7 938,597.7 L990,597.7 C1007,597.7 1020.3,610 1020.3,627 L1020.3,700 C1020.3,730 995,750.2 964.3,750.2 C933,750.2 908.3,730 908.3,700 Z" fill="none"/>
<rect x="919.5" y="647.5" width="29.5" height="9" rx="4.5" fill="#70a9dd" stroke-width="2.8"/>
<rect x="979.7" y="647.5" width="29.5" height="9" rx="4.5" fill="#70a9dd" stroke-width="2.8"/>
<circle cx="935.2" cy="670" r="5.3" fill="#1b5fab" stroke="none"/>
<circle cx="993.5" cy="670" r="5.3" fill="#1b5fab" stroke="none"/>
<circle cx="930" cy="694.6" r="7" fill="#c6e1f2" stroke="none"/>
<circle cx="997.7" cy="694.6" r="7" fill="#c6e1f2" stroke="none"/>
<path d="M971.7,656.5 L971.7,697 C971.7,706 956,707 956,698" fill="none"/>
<path d="M946.7,713.5 Q964,719 982,713.5" fill="none"/>
<path d="M957,725 L971.7,725" fill="none"/>
<path d="M930.6,771.7 L903,771.7 C870,772 850,800 847.5,827 L838.75,949.6 C838,960 842,966 847.5,970 L872.2,1000 L928.5,1000 L933.5,1000 L1070.6,1000 L1070.6,907.3 C1080,918 1092,924 1107,923.3 C1125,922 1140,908 1142,891 L1159.6,773 L1110,764.4 L1096.9,828.5 L1060,792 C1050,781 1040,774.6 1030,773.5 L997.7,771.7 Z" fill="#c6e1f2"/>
<path d="M930.6,771.7 C950,782 980,782 997.7,771.7" fill="none"/>
<path d="M903,865 L897,938 L932,1010" fill="none"/>
<path d="M1031,859 L1072,905.8" fill="none"/>
<path d="M1096.9,828.5 L1092.5,862" fill="none"/>
</g>
<path d="M935,1001.9 L1196,1001.9" stroke="#1b5fab" stroke-width="3.8" fill="none"/>
<g stroke="#1b5fab" stroke-width="3.7" stroke-linejoin="round" stroke-linecap="round">
<path d="M847.5,970 L892.8,1021.7 L937.2,1015.2 L932,1005 L897,938 Z" fill="#c6e1f2" stroke="none"/>
<path d="M847.5,970 L892.8,1021.7 M897,938 L937.2,1015.2" fill="none"/>
<path d="M952.5,1027 L1068.3,1011.2 L1142,1089 L1027.2,1104.7 Z" fill="#fff" stroke-width="3.2"/>
<path d="M996,1031 L1066.3,1022.5 M983.3,1047.2 L1078.2,1034.7 M996,1059.3 L1091,1047.2 M1008.8,1071.2 L1103.7,1059.3" fill="none" stroke-width="3.2"/>
<g transform="translate(880.3,1053) rotate(-9.2)">
<path d="M18,-6 L114.8,-6 L114.8,6 L18,6 Z" fill="#f3e635" stroke-width="2.4"/>
<rect x="88" y="-6" width="9.5" height="12" fill="#f3e635" stroke-width="2.4"/>
<rect x="97.5" y="-6" width="5.5" height="12" fill="#c6e1f2" stroke-width="2.4"/>
<path d="M18,-6 L0,0 L18,6 Z" fill="#f3e635" stroke-width="2.2"/>
</g>
<path d="M892.8,1021.7 L894.0,1028.0 L894.9,1027.9 L896.6,1033.0 L896.8,1033.2 L896.9,1033.5 L897.1,1033.8 L897.2,1034.0 L897.5,1034.2 L897.7,1034.4 L897.9,1034.6 L906.4,1039.7 L906.7,1039.8 L907.0,1039.9 L907.3,1040.0 L907.7,1040.1 L924.8,1042.0 L925.2,1042.0 L963.0,1042.0 L963.3,1042.0 L963.6,1041.9 L963.9,1041.9 L964.1,1041.8 L964.4,1041.6 L964.7,1041.5 L964.9,1041.3 L965.1,1041.1 L965.3,1040.9 L965.5,1040.7 L965.6,1040.4 L965.8,1040.1 L965.9,1039.9 L965.9,1039.6 L966.0,1039.3 L966.0,1039.0 L966.0,1033.6 L966.0,1033.3 L965.9,1033.0 L965.9,1032.7 L965.8,1032.4 L965.7,1032.2 L965.5,1031.9 L965.3,1031.7 L965.1,1031.5 L964.9,1031.3 L964.7,1031.1 L958.3,1026.7 L958.0,1026.5 L957.7,1026.4 L946.1,1021.7 L946.0,1021.7 L945.9,1021.7 L938.2,1015.9 L938.0,1015.8 L937.7,1015.6 L937.4,1015.5 L937.2,1015.5 L937.2,1015.2 L936.0,1015.4 L896.4,1021.2Z" fill="#fff" stroke-width="3.2"/>
<path d="M915.5,1051.7 L915.4,1052.5 L915.5,1053.4 L915.6,1054.2 L915.9,1055.0 L916.3,1055.7 L916.7,1056.4 L917.3,1057.1 L917.9,1057.6 L918.6,1058.1 L919.4,1058.4 L920.2,1058.7 L921.0,1058.8 L921.8,1058.9 L922.7,1058.8 L923.5,1058.7 L924.3,1058.4 L925.0,1058.0 L925.7,1057.6 L926.4,1057.0 L926.9,1056.4 L927.4,1055.7 L927.7,1054.9 L928.0,1054.1 L928.1,1053.3 L929.8,1039.8 L929.9,1039.0 L929.8,1038.1 L929.7,1037.3 L929.4,1036.5 L929.0,1035.8 L928.6,1035.1 L928.0,1034.4 L927.4,1033.9 L926.7,1033.4 L925.9,1033.1 L925.1,1032.8 L924.3,1032.7 L923.5,1032.6 L922.6,1032.7 L921.8,1032.8 L921.0,1033.1 L920.3,1033.5 L919.6,1033.9 L918.9,1034.5 L918.4,1035.1 L917.9,1035.8 L917.6,1036.6 L917.3,1037.4 L917.2,1038.2Z" fill="#fff" stroke-width="3.2"/>
<path d="M928.6,1054.0 L928.6,1054.8 L928.7,1055.7 L928.9,1056.5 L929.2,1057.3 L929.6,1058.0 L930.1,1058.7 L930.7,1059.3 L931.4,1059.8 L932.1,1060.2 L932.9,1060.5 L933.7,1060.8 L934.5,1060.9 L935.3,1060.9 L936.2,1060.8 L937.0,1060.6 L937.8,1060.3 L938.5,1059.9 L939.2,1059.4 L939.8,1058.8 L940.3,1058.1 L940.7,1057.4 L941.0,1056.6 L941.3,1055.8 L941.4,1055.0 L942.9,1036.0 L942.9,1035.2 L942.8,1034.3 L942.6,1033.5 L942.3,1032.7 L941.9,1032.0 L941.4,1031.3 L940.8,1030.7 L940.1,1030.2 L939.4,1029.8 L938.6,1029.5 L937.8,1029.2 L937.0,1029.1 L936.2,1029.1 L935.3,1029.2 L934.5,1029.4 L933.7,1029.7 L933.0,1030.1 L932.3,1030.6 L931.7,1031.2 L931.2,1031.9 L930.8,1032.6 L930.5,1033.4 L930.2,1034.2 L930.1,1035.0Z" fill="#fff" stroke-width="3.2"/>
<path d="M941.6,1052.0 L941.6,1052.8 L941.7,1053.6 L941.9,1054.4 L942.2,1055.2 L942.6,1056.0 L943.1,1056.6 L943.7,1057.2 L944.4,1057.8 L945.1,1058.2 L945.8,1058.5 L946.6,1058.8 L947.5,1058.9 L948.3,1058.9 L949.1,1058.8 L949.9,1058.6 L950.7,1058.3 L951.5,1057.9 L952.1,1057.4 L952.7,1056.8 L953.3,1056.1 L953.7,1055.4 L954.0,1054.7 L954.3,1053.9 L954.4,1053.0 L955.9,1035.0 L955.9,1034.2 L955.8,1033.4 L955.6,1032.6 L955.3,1031.8 L954.9,1031.0 L954.4,1030.4 L953.8,1029.8 L953.1,1029.2 L952.4,1028.8 L951.7,1028.5 L950.9,1028.2 L950.0,1028.1 L949.2,1028.1 L948.4,1028.2 L947.6,1028.4 L946.8,1028.7 L946.0,1029.1 L945.4,1029.6 L944.8,1030.2 L944.2,1030.9 L943.8,1031.6 L943.5,1032.3 L943.2,1033.1 L943.1,1034.0Z" fill="#fff" stroke-width="3.2"/>
<path d="M953.6,1051.0 L953.6,1051.8 L953.7,1052.7 L953.9,1053.5 L954.2,1054.2 L954.6,1055.0 L955.1,1055.6 L955.7,1056.2 L956.4,1056.8 L957.1,1057.2 L957.8,1057.5 L958.7,1057.8 L959.5,1057.9 L960.3,1057.9 L961.2,1057.8 L962.0,1057.6 L962.7,1057.3 L963.5,1056.9 L964.1,1056.4 L964.7,1055.8 L965.3,1055.1 L965.7,1054.4 L966.0,1053.7 L966.3,1052.8 L966.4,1052.0 L967.9,1033.5 L967.9,1032.7 L967.8,1031.8 L967.6,1031.0 L967.3,1030.3 L966.9,1029.5 L966.4,1028.9 L965.8,1028.3 L965.1,1027.7 L964.4,1027.3 L963.7,1027.0 L962.8,1026.7 L962.0,1026.6 L961.2,1026.6 L960.3,1026.7 L959.5,1026.9 L958.8,1027.2 L958.0,1027.6 L957.4,1028.1 L956.8,1028.7 L956.2,1029.4 L955.8,1030.1 L955.5,1030.8 L955.2,1031.7 L955.1,1032.5Z" fill="#fff" stroke-width="3.2"/>
<path d="M892.8,1021.7 L937.2,1015.2" fill="none"/>
<path d="M1108.8,746.0 L1108.9,746.9 L1109.3,747.8 L1109.5,748.4 L1110.0,766.0 L1160.6,773.0 L1163.5,740.0 L1163.5,722.0 L1125.0,722.0 L1123.3,721.8 L1123.3,683.0 L1123.2,682.0 L1123.1,681.1 L1122.7,680.2 L1122.3,679.4 L1121.8,678.6 L1121.2,677.8 L1120.4,677.2 L1119.7,676.7 L1118.8,676.3 L1117.9,675.9 L1117.0,675.8 L1116.0,675.7 L1115.0,675.8 L1114.1,675.9 L1113.2,676.3 L1112.3,676.7 L1111.6,677.2 L1110.8,677.8 L1110.2,678.6 L1109.7,679.4 L1109.3,680.2 L1108.9,681.1 L1108.8,682.0 L1108.7,683.0 L1108.7,745.0Z" fill="#fff" stroke-width="3.4"/>
<path d="M1151.2,733.5 L1151.3,734.3 L1151.5,735.1 L1151.7,735.9 L1152.1,736.6 L1152.5,737.3 L1153.1,737.9 L1153.7,738.5 L1154.4,738.9 L1155.1,739.3 L1155.9,739.5 L1156.7,739.7 L1157.5,739.8 L1158.3,739.7 L1159.1,739.5 L1159.9,739.3 L1160.6,738.9 L1161.3,738.5 L1161.9,737.9 L1162.5,737.3 L1162.9,736.6 L1163.3,735.9 L1163.5,735.1 L1163.7,734.3 L1163.8,733.5 L1163.8,716.0 L1163.7,715.2 L1163.5,714.4 L1163.3,713.6 L1162.9,712.9 L1162.5,712.2 L1161.9,711.6 L1161.3,711.0 L1160.6,710.6 L1159.9,710.2 L1159.1,710.0 L1158.3,709.8 L1157.5,709.8 L1156.7,709.8 L1155.9,710.0 L1155.1,710.2 L1154.4,710.6 L1153.7,711.0 L1153.1,711.6 L1152.5,712.2 L1152.1,712.9 L1151.7,713.6 L1151.5,714.4 L1151.3,715.2 L1151.2,716.0Z" fill="#fff" stroke-width="3.4"/>
<path d="M1136.5,734.5 L1136.6,735.4 L1136.7,736.3 L1137.0,737.1 L1137.4,738.0 L1137.9,738.7 L1138.5,739.4 L1139.2,740.0 L1140.0,740.5 L1140.8,740.9 L1141.6,741.2 L1142.5,741.3 L1143.4,741.4 L1144.3,741.3 L1145.2,741.2 L1146.0,740.9 L1146.9,740.5 L1147.6,740.0 L1148.3,739.4 L1148.9,738.7 L1149.4,738.0 L1149.8,737.1 L1150.1,736.3 L1150.2,735.4 L1150.3,734.5 L1150.3,703.5 L1150.2,702.6 L1150.1,701.7 L1149.8,700.9 L1149.4,700.0 L1148.9,699.3 L1148.3,698.6 L1147.6,698.0 L1146.9,697.5 L1146.0,697.1 L1145.2,696.8 L1144.3,696.7 L1143.4,696.6 L1142.5,696.7 L1141.6,696.8 L1140.8,697.1 L1140.0,697.5 L1139.2,698.0 L1138.5,698.6 L1137.9,699.3 L1137.4,700.0 L1137.0,700.9 L1136.7,701.7 L1136.6,702.6 L1136.5,703.5Z" fill="#fff" stroke-width="3.4"/>
<path d="M1123.9,734.0 L1124.0,734.8 L1124.1,735.5 L1124.3,736.3 L1124.7,737.0 L1125.1,737.6 L1125.6,738.2 L1126.2,738.7 L1126.8,739.1 L1127.5,739.5 L1128.3,739.7 L1129.0,739.8 L1129.8,739.9 L1130.6,739.8 L1131.3,739.7 L1132.1,739.5 L1132.8,739.1 L1133.4,738.7 L1134.0,738.2 L1134.5,737.6 L1134.9,737.0 L1135.3,736.3 L1135.5,735.5 L1135.6,734.8 L1135.7,734.0 L1135.7,705.5 L1135.6,704.7 L1135.5,704.0 L1135.3,703.2 L1134.9,702.5 L1134.5,701.9 L1134.0,701.3 L1133.4,700.8 L1132.8,700.4 L1132.1,700.0 L1131.3,699.8 L1130.6,699.7 L1129.8,699.6 L1129.0,699.7 L1128.3,699.8 L1127.5,700.0 L1126.8,700.4 L1126.2,700.8 L1125.6,701.3 L1125.1,701.9 L1124.7,702.5 L1124.3,703.2 L1124.1,704.0 L1124.0,704.7 L1123.9,705.5Z" fill="#fff" stroke-width="3.4"/>
<path d="M1110,725.7 L1134,710 L1141,714 L1139,721 L1123.8,731.4 L1123.8,743 L1110,745 Z" fill="#fff" stroke="none"/>
<path d="M1110,725.7 L1132.5,710.8 C1137,708 1142,712 1141,716.5 C1140.5,719 1139.5,720 1138,721 L1123.8,731.4 L1123.8,743 C1132,747 1140,752 1143.4,758" fill="none" stroke-width="3.2"/>
<path d="M1110,766 L1160.6,773" fill="none"/>
</g>
<text transform="matrix(0.965,-0.1317,0.397,0.413,952.5,1027) translate(57.2,146.3) rotate(180)" font-family="Liberation Sans,'Noto Sans CJK SC',sans-serif" font-weight="700" font-size="36" fill="#1b5fab" text-anchor="middle" dominant-baseline="central" letter-spacing="6">志愿</text>
</svg>
<div class="a ft1" style="left:215px;top:1022px">2018届大学生毕业半年后就业情况</div>
<div class="a ft2" style="left:215px;top:1068px">资料来源:麦可思研究院2018届大学生毕业半年后培养质量的跟踪评价</div>
<svg width="40" height="40" viewBox="0 1088 40 40" style="left:0;top:1088px">
<g fill="#1b5fab"><circle cx="22.75" cy="1109.5" r="12.3"/><circle cx="11.5" cy="1099.5" r="1.6"/><circle cx="7.25" cy="1111.75" r="1"/><circle cx="10.75" cy="1119.25" r="1.5"/><circle cx="32.5" cy="1122.5" r="2.6"/><path d="M25,1119 L27,1126 L30,1119Z"/></g>
<g fill="#fff"><circle cx="19" cy="1109.2" r="5.2"/><circle cx="27.7" cy="1104.4" r="3.2"/><circle cx="28" cy="1114.6" r="3.2"/></g>
<g stroke="#fff" stroke-width="2.2" stroke-dasharray="1.6 1.6" fill="none"><circle cx="19" cy="1109.2" r="6.2"/></g>
<g stroke="#fff" stroke-width="1.6" stroke-dasharray="1.2 1.2" fill="none"><circle cx="27.7" cy="1104.4" r="3.9"/><circle cx="28" cy="1114.6" r="3.9"/></g>
<g fill="#1b5fab"><circle cx="19" cy="1109.2" r="2.4"/><circle cx="27.7" cy="1104.4" r="1.3"/><circle cx="28" cy="1114.6" r="1.3"/></g>
</svg>
<div class="a ft3" style="left:40px;top:1099px">Fantastic Graphics</div>
</body>
</html>
